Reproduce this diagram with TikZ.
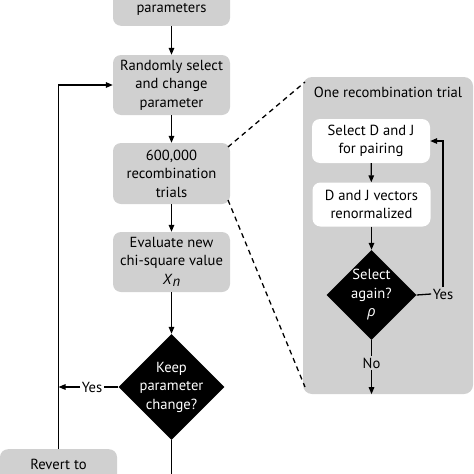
\documentclass[tikz,border=0pt]{standalone}
\usepackage{fontspec}
\setmainfont{PT Sans}
\newfontfamily\grk{Open Sans}
\usetikzlibrary{shapes.geometric,arrows.meta}
\definecolor{boxgray}{RGB}{208,208,208}
\begin{document}
\begin{tikzpicture}[x=1pt,y=-1pt,
  every node/.style={font=\fontsize{14.6}{18.5}\selectfont},
  gbox/.style={draw=none,fill=boxgray,rounded corners=8pt,align=center,minimum width=117pt,inner sep=0pt},
  wbox/.style={draw=none,fill=white,rounded corners=8pt,align=center,minimum width=118pt,minimum height=44pt,inner sep=0pt},
  dia/.style={diamond,fill=black,draw=none,inner sep=0pt,aspect=1},
  dtxt/.style={text=white,align=center,inner sep=0pt},
  lab/.style={inner sep=1.5pt},
  conn/.style={line width=1.3pt},
  arr/.style={line width=1.3pt,-{Triangle[length=7pt,width=5.5pt]}},
  dsh/.style={line width=1.3pt,dash pattern=on 5pt off 4pt}
]
\useasboundingbox (0,0) rectangle (474,474);
\begin{scope}
\clip (0,0) rectangle (474,474);
% left column
\node[gbox,minimum height=52pt,anchor=south] (par) at (171.5,26) {\vphantom{X}\\parameters};
\node[gbox,minimum height=60pt] (rand) at (171.5,85) {Randomly select\\and change\\parameter};
\node[gbox,minimum height=61pt] (trials) at (171.5,173.5) {600,000\\recombination\\trials};
\node[gbox,minimum height=60pt] (eval) at (171.5,262) {Evaluate new\\chi-square value\\\textit{X}\raisebox{-2.5pt}{\textit{n}}};
\node[dia,minimum width=106pt,minimum height=106pt] (keep) at (171.5,387) {};
\node[dtxt] (keept) at (keep.center) {Keep\\parameter\\change?};
\node[gbox,minimum height=48pt,anchor=north] (rev) at (58.5,449) {Revert to\\\vphantom{X}};
\node[lab] (yes1) at (92,387) {Yes};
\coordinate (bot) at (171.5,480);

\draw[arr] (par) -- (rand);
\draw[arr] (rand) -- (trials);
\draw[arr] (trials) -- (eval);
\draw[arr] (eval) -- (keep);
\draw[conn] (keep.south) -- (bot);
\draw[conn] (keep.west) -- (yes1.east);
\draw[arr] (yes1.west) -- (rev.north |- yes1.west);
\draw[arr] (rev.north) |- (rand.west);

% right panel
\node[fill=boxgray,rounded corners=9pt,minimum width=170pt,minimum height=317pt,inner sep=0pt] (panel) at (388,235.5) {};
\node[lab] (title) at (388,92) {One recombination trial};
\node[wbox] (sel) at (371,141) {Select D and J\\for pairing};
\node[wbox] (ren) at (371.5,204.5) {D and J vectors\\renormalized};
\node[dia,minimum width=90pt,minimum height=90pt] (sa) at (371.5,295) {};
\node[dtxt] (sat) at (sa.center) {Select\\again?\\{\grk\itshape ρ}};
\node[lab] (yes2) at (443,294) {Yes};
\node[lab] (no) at (371.5,363) {No};

\draw[arr] (sel) -- (ren);
\draw[arr] (ren) -- (sa);
\draw[conn] (sa.east) -- (yes2.west);
\draw[arr] (yes2.north) |- (sel.east);
\draw[conn] (sa.south) -- (no.north);
\draw[arr] (no.south) -- (no.south |- panel.south);

% dashed zoom lines
\coordinate (d1a) at (228,147);
\coordinate (d1b) at (305,82);
\coordinate (d2a) at (228,200);
\coordinate (d2b) at (305,387);
\draw[dsh] (d1a) -- (d1b);
\draw[dsh] (d2a) -- (d2b);
\end{scope}
\end{tikzpicture}
\end{document}
